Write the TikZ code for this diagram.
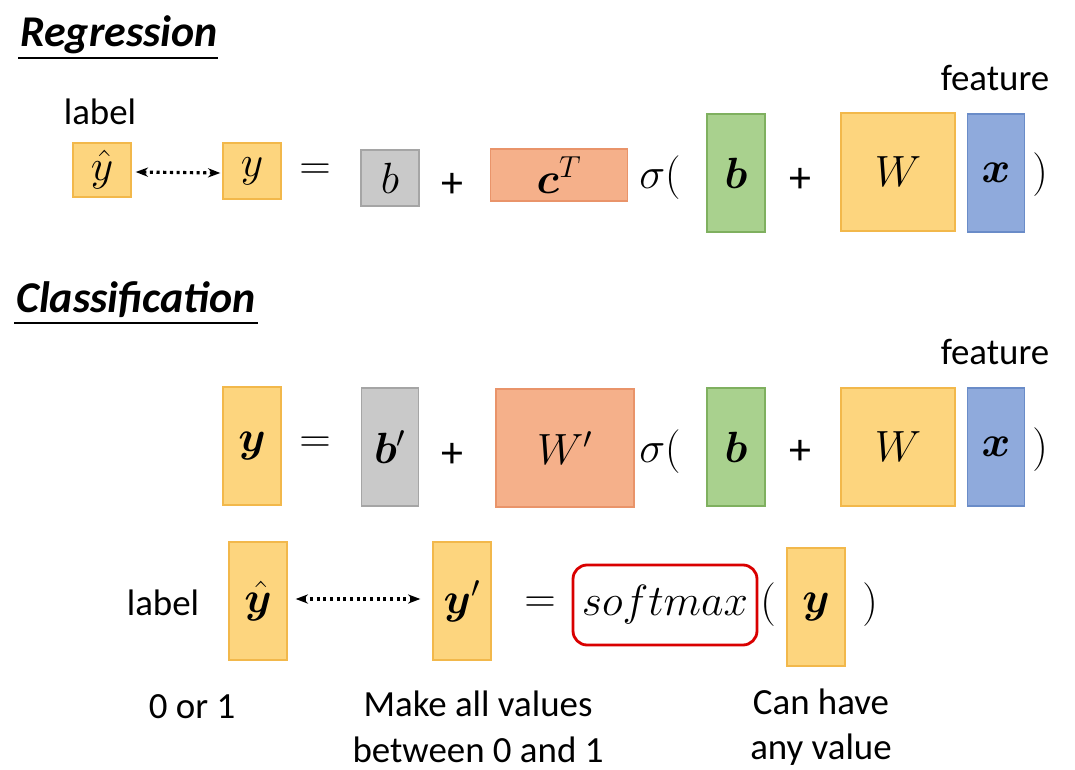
\documentclass[tikz,border=0pt]{standalone}
\usepackage{fontspec}
\usepackage{amsmath,bm}
\setmainfont{Carlito}
\usetikzlibrary{arrows.meta}
\definecolor{yf}{HTML}{FDD57E}\definecolor{yd}{HTML}{F2B84B}
\definecolor{gf}{HTML}{C9C9C9}\definecolor{gd}{HTML}{A5A5A5}
\definecolor{sf}{HTML}{F5B08A}\definecolor{sd}{HTML}{E9946A}
\definecolor{nf}{HTML}{A9D18E}\definecolor{nd}{HTML}{7FB05F}
\definecolor{bf}{HTML}{8FAADC}\definecolor{bd}{HTML}{6A8CC8}
\begin{document}
\begin{tikzpicture}[x=0.02cm,y=-0.02cm,
 bx/.style={draw=#1d,fill=#1f,line width=0.8pt,inner sep=0pt},
 m/.style={font=\fontsize{25}{28}\selectfont},
 t/.style={font=\fontsize{21}{26}\selectfont},
 hd/.style={font=\fontsize{25}{30}\selectfont\bfseries\itshape},
 darr/.style={{Stealth[length=7pt]}-{Stealth[length=7pt]},dotted,line width=1.8pt}]
\useasboundingbox (0,0) rectangle (1075,770);
% Regression
\node[hd,anchor=west] (reg) at (14,35) {Regression};
\coordinate (u1) at (18,58);
\draw[line width=0.8pt] (u1) -- ++(200,0);
\node[t] (lab1) at (100,112) {label};
\node[t] (feat1) at (995,78) {feature};
\node[bx=y,minimum width=58*0.02cm,minimum height=54*0.02cm,m] (yh1) at (102,170) {$\hat{y}$};
\node[bx=y,minimum width=58*0.02cm,minimum height=56*0.02cm,m] (y1) at (252,171) {$y$};
\draw[darr] (yh1.east)++(4,2) -- ([yshift=-2*0.02cm,xshift=-2*0.02cm]y1.west);
\node[m] (eq1) at (315,172) {$=$};
\node[bx=g,minimum width=58*0.02cm,minimum height=56*0.02cm,m] (b1) at (390,178) {$b$};
\node[m] (p1) at (452,185) {+};
\node[bx=s,minimum width=137*0.02cm,minimum height=52*0.02cm,m] (c1) at (559,175) {$\bm{c}^T$};
\node[m] (s1) at (660,178) {$\sigma($};
\node[bx=n,minimum width=58*0.02cm,minimum height=118*0.02cm,m] (bb1) at (736,173) {$\bm{b}$};
\node[m] (p2) at (800,180) {+};
\node[bx=y,minimum width=114*0.02cm,minimum height=118*0.02cm,m] (W1) at (898,172) {$W$};
\node[bx=b,minimum width=57*0.02cm,minimum height=118*0.02cm,m] (x1) at (996,173) {$\bm{x}$};
\node[m] (r1) at (1040,175) {$)$};
% Classification
\node[hd,anchor=west] (cls) at (10,300) {Classification};
\coordinate (u2) at (14,323);
\draw[line width=0.8pt] (u2) -- ++(244,0);
\node[t] (feat2) at (995,352) {feature};
\node[bx=y,minimum width=58*0.02cm,minimum height=118*0.02cm,m] (y2) at (252,446) {$\bm{y}$};
\node[m] (eq2) at (315,445) {$=$};
\node[bx=g,minimum width=57*0.02cm,minimum height=118*0.02cm,m] (b2) at (390,447) {$\bm{b}'$};
\node[m] (p3) at (452,455) {+};
\node[bx=s,minimum width=138*0.02cm,minimum height=118*0.02cm,m] (W2) at (565,448) {$W'$};
\node[m] (s2) at (660,452) {$\sigma($};
\node[bx=n,minimum width=58*0.02cm,minimum height=118*0.02cm,m] (bb2) at (736,447) {$\bm{b}$};
\node[m] (p4) at (800,452) {+};
\node[bx=y,minimum width=114*0.02cm,minimum height=118*0.02cm,m] (W3) at (898,447) {$W$};
\node[bx=b,minimum width=57*0.02cm,minimum height=118*0.02cm,m] (x2) at (996,447) {$\bm{x}$};
\node[m] (r2) at (1040,450) {$)$};
% softmax row
\node[t] (lab2) at (163,603) {label};
\node[bx=y,minimum width=58*0.02cm,minimum height=118*0.02cm,m] (yh2) at (258,601) {$\hat{\bm{y}}$};
\node[bx=y,minimum width=58*0.02cm,minimum height=118*0.02cm,m] (yp) at (462,601) {$\bm{y}'$};
\draw[darr] (yh2.east)++(8,-2) -- ([xshift=-12*0.02cm,yshift=2*0.02cm]yp.west);
\node[m] (eq3) at (540,605) {$=$};
\node[draw=red!85!black,line width=1.6pt,rounded corners=8pt,minimum width=184*0.02cm,minimum height=80*0.02cm,font=\fontsize{24}{28}\selectfont] (sm) at (665,605) {$softmax$};
\node[m] (l3) at (768,605) {$($};
\node[bx=y,minimum width=58*0.02cm,minimum height=118*0.02cm,m] (y3) at (816,607) {$\bm{y}$};
\node[m] (r3) at (870,605) {$)$};
\node[t] (t1) at (192,707) {0 or 1};
\node[t,align=center] (t2) at (478,727) {Make all values\\between 0 and 1};
\node[t,align=center] (t3) at (821,727) {Can have\\any value};
\end{tikzpicture}
\end{document}
